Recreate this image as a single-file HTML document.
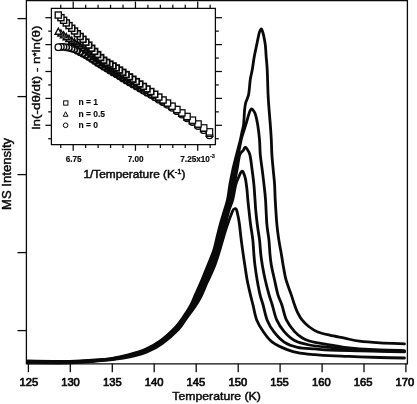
<!DOCTYPE html>
<html><head><meta charset="utf-8"><title>TPD</title>
<style>html,body{margin:0;padding:0;background:#fff}svg{display:block}</style></head>
<body>
<svg width="417" height="404" viewBox="0 0 417 404">
<rect x="0" y="0" width="417" height="404" fill="#fff"/>
<g fill="none" stroke="#0a0a0a" stroke-width="1.3">
<path d="M26.4 0.7 H407.4 V363.8 H26.4 Z"/>
<path d="M17.5 18.6 H26.4"/>
<path d="M17.5 96.6 H26.4"/>
<path d="M17.5 174.6 H26.4"/>
<path d="M17.5 252.6 H26.4"/>
<path d="M17.5 330.6 H26.4"/>
<path d="M28.4 363.8 V372.2"/>
<path d="M70.3 363.8 V372.2"/>
<path d="M112.3 363.8 V372.2"/>
<path d="M154.2 363.8 V372.2"/>
<path d="M196.2 363.8 V372.2"/>
<path d="M238.2 363.8 V372.2"/>
<path d="M280.1 363.8 V372.2"/>
<path d="M322.1 363.8 V372.2"/>
<path d="M364.0 363.8 V372.2"/>
<path d="M405.9 363.8 V372.2"/>
</g>
<g fill="none" stroke="#0a0a0a" stroke-width="1.25">
<path d="M51.4 8.4 H215.4 V144.6 H51.4 Z"/>
<path d="M60.75 144.6 V148.0"/>
<path d="M60.75 8.4 V4.8"/>
<path d="M73.20 144.6 V150.8"/>
<path d="M73.20 8.4 V1.6"/>
<path d="M85.65 144.6 V148.0"/>
<path d="M85.65 8.4 V4.8"/>
<path d="M98.10 144.6 V148.0"/>
<path d="M98.10 8.4 V4.8"/>
<path d="M110.55 144.6 V148.0"/>
<path d="M110.55 8.4 V4.8"/>
<path d="M123.00 144.6 V148.0"/>
<path d="M123.00 8.4 V4.8"/>
<path d="M135.45 144.6 V150.8"/>
<path d="M135.45 8.4 V1.6"/>
<path d="M147.90 144.6 V148.0"/>
<path d="M147.90 8.4 V4.8"/>
<path d="M160.35 144.6 V148.0"/>
<path d="M160.35 8.4 V4.8"/>
<path d="M172.80 144.6 V148.0"/>
<path d="M172.80 8.4 V4.8"/>
<path d="M185.25 144.6 V148.0"/>
<path d="M185.25 8.4 V4.8"/>
<path d="M197.70 144.6 V150.8"/>
<path d="M197.70 8.4 V1.6"/>
<path d="M210.15 144.6 V148.0"/>
<path d="M210.15 8.4 V4.8"/>
<path d="M51.4 17.70 H45.4"/>
<path d="M215.4 17.70 H221.9"/>
<path d="M51.4 31.15 H48.2"/>
<path d="M215.4 31.15 H218.8"/>
<path d="M51.4 44.60 H45.4"/>
<path d="M215.4 44.60 H221.9"/>
<path d="M51.4 58.05 H48.2"/>
<path d="M215.4 58.05 H218.8"/>
<path d="M51.4 71.50 H45.4"/>
<path d="M215.4 71.50 H221.9"/>
<path d="M51.4 84.95 H48.2"/>
<path d="M215.4 84.95 H218.8"/>
<path d="M51.4 98.40 H45.4"/>
<path d="M215.4 98.40 H221.9"/>
<path d="M51.4 111.85 H48.2"/>
<path d="M215.4 111.85 H218.8"/>
<path d="M51.4 125.30 H45.4"/>
<path d="M215.4 125.30 H221.9"/>
<path d="M51.4 138.75 H48.2"/>
<path d="M215.4 138.75 H218.8"/>
</g>
<g fill="#fff" stroke="#0a0a0a">
<circle cx="209.50" cy="135.36" r="3.31" stroke-width="1.20"/>
<circle cx="203.74" cy="130.20" r="3.30" stroke-width="1.22"/>
<circle cx="198.07" cy="126.09" r="3.29" stroke-width="1.24"/>
<circle cx="192.48" cy="122.06" r="3.27" stroke-width="1.26"/>
<circle cx="187.09" cy="118.24" r="3.26" stroke-width="1.28"/>
<circle cx="181.91" cy="114.62" r="3.25" stroke-width="1.30"/>
<circle cx="176.93" cy="111.13" r="3.25" stroke-width="1.32"/>
<circle cx="172.14" cy="107.78" r="3.24" stroke-width="1.34"/>
<circle cx="167.53" cy="104.82" r="3.22" stroke-width="1.36"/>
<circle cx="163.11" cy="102.18" r="3.16" stroke-width="1.48"/>
<circle cx="158.85" cy="99.65" r="3.11" stroke-width="1.59"/>
<circle cx="154.76" cy="97.21" r="3.05" stroke-width="1.69"/>
<circle cx="150.82" cy="94.87" r="3.00" stroke-width="1.79"/>
<circle cx="147.03" cy="92.66" r="2.95" stroke-width="1.89"/>
<circle cx="143.40" cy="90.55" r="2.90" stroke-width="1.98"/>
<circle cx="139.86" cy="88.50" r="2.85" stroke-width="2.07"/>
<circle cx="136.37" cy="86.48" r="2.80" stroke-width="2.16"/>
<circle cx="132.92" cy="84.48" r="2.78" stroke-width="2.20"/>
<circle cx="129.51" cy="82.49" r="2.78" stroke-width="2.20"/>
<circle cx="126.15" cy="80.42" r="2.78" stroke-width="2.20"/>
<circle cx="122.83" cy="78.38" r="2.78" stroke-width="2.20"/>
<circle cx="119.54" cy="76.36" r="2.78" stroke-width="2.20"/>
<circle cx="116.30" cy="74.37" r="2.78" stroke-width="2.20"/>
<circle cx="113.10" cy="72.41" r="2.78" stroke-width="2.20"/>
<circle cx="109.94" cy="70.47" r="2.78" stroke-width="2.20"/>
<circle cx="106.82" cy="68.57" r="2.78" stroke-width="2.20"/>
<circle cx="103.73" cy="66.70" r="2.78" stroke-width="2.20"/>
<circle cx="100.69" cy="64.86" r="2.78" stroke-width="2.20"/>
<circle cx="97.67" cy="62.88" r="2.78" stroke-width="2.20"/>
<circle cx="94.68" cy="60.88" r="2.78" stroke-width="2.20"/>
<circle cx="91.72" cy="58.92" r="2.78" stroke-width="2.20"/>
<circle cx="88.79" cy="57.08" r="2.78" stroke-width="2.20"/>
<circle cx="85.88" cy="55.37" r="2.83" stroke-width="2.11"/>
<circle cx="83.01" cy="53.72" r="2.89" stroke-width="2.00"/>
<circle cx="80.16" cy="52.15" r="2.95" stroke-width="1.88"/>
<circle cx="77.33" cy="50.67" r="3.01" stroke-width="1.77"/>
<circle cx="74.54" cy="49.37" r="3.07" stroke-width="1.65"/>
<circle cx="71.76" cy="48.52" r="3.13" stroke-width="1.55"/>
<circle cx="69.02" cy="47.84" r="3.15" stroke-width="1.51"/>
<circle cx="66.30" cy="47.37" r="3.17" stroke-width="1.47"/>
<circle cx="63.61" cy="46.95" r="3.19" stroke-width="1.43"/>
<circle cx="60.94" cy="46.84" r="3.21" stroke-width="1.39"/>
<circle cx="58.30" cy="47.15" r="3.23" stroke-width="1.35"/>
<path d="M206.19 136.28 L212.81 136.28 L209.50 129.99 Z" stroke-width="1.20"/>
<path d="M200.44 131.71 L207.04 131.71 L203.74 125.44 Z" stroke-width="1.22"/>
<path d="M194.78 127.70 L201.35 127.70 L198.07 121.45 Z" stroke-width="1.24"/>
<path d="M189.20 123.76 L195.75 123.76 L192.48 117.52 Z" stroke-width="1.26"/>
<path d="M183.82 119.99 L190.35 119.99 L187.09 113.77 Z" stroke-width="1.28"/>
<path d="M178.65 116.39 L185.16 116.39 L181.91 110.19 Z" stroke-width="1.30"/>
<path d="M173.68 112.93 L180.17 112.93 L176.93 106.75 Z" stroke-width="1.32"/>
<path d="M168.90 109.60 L175.38 109.60 L172.14 103.44 Z" stroke-width="1.34"/>
<path d="M164.31 106.53 L170.76 106.53 L167.53 100.39 Z" stroke-width="1.36"/>
<path d="M159.94 103.64 L166.27 103.64 L163.11 97.62 Z" stroke-width="1.48"/>
<path d="M155.74 100.86 L161.95 100.86 L158.85 94.95 Z" stroke-width="1.59"/>
<path d="M151.71 98.20 L157.81 98.20 L154.76 92.39 Z" stroke-width="1.69"/>
<path d="M147.82 95.63 L153.82 95.63 L150.82 89.92 Z" stroke-width="1.79"/>
<path d="M144.09 93.18 L149.98 93.18 L147.03 87.57 Z" stroke-width="1.89"/>
<path d="M140.50 90.84 L146.29 90.84 L143.40 85.32 Z" stroke-width="1.98"/>
<path d="M137.01 88.56 L142.71 88.56 L139.86 83.14 Z" stroke-width="2.07"/>
<path d="M133.57 86.31 L139.17 86.31 L136.37 80.97 Z" stroke-width="2.16"/>
<path d="M130.14 84.11 L135.70 84.11 L132.92 78.81 Z" stroke-width="2.20"/>
<path d="M126.73 81.94 L132.29 81.94 L129.51 76.64 Z" stroke-width="2.20"/>
<path d="M123.37 79.75 L128.93 79.75 L126.15 74.45 Z" stroke-width="2.20"/>
<path d="M120.04 77.58 L125.61 77.58 L122.83 72.28 Z" stroke-width="2.20"/>
<path d="M116.76 75.45 L122.33 75.45 L119.54 70.15 Z" stroke-width="2.20"/>
<path d="M113.52 73.33 L119.08 73.33 L116.30 68.03 Z" stroke-width="2.20"/>
<path d="M110.32 71.25 L115.88 71.25 L113.10 65.95 Z" stroke-width="2.20"/>
<path d="M107.16 69.19 L112.72 69.19 L109.94 63.89 Z" stroke-width="2.20"/>
<path d="M104.03 67.15 L109.60 67.15 L106.82 61.85 Z" stroke-width="2.20"/>
<path d="M100.95 65.14 L106.52 65.14 L103.73 59.84 Z" stroke-width="2.20"/>
<path d="M97.90 63.15 L103.47 63.15 L100.69 57.85 Z" stroke-width="2.20"/>
<path d="M94.89 61.08 L100.45 61.08 L97.67 55.78 Z" stroke-width="2.20"/>
<path d="M91.90 58.90 L97.46 58.90 L94.68 53.60 Z" stroke-width="2.20"/>
<path d="M88.94 56.74 L94.50 56.74 L91.72 51.44 Z" stroke-width="2.20"/>
<path d="M86.01 54.63 L91.57 54.63 L88.79 49.33 Z" stroke-width="2.20"/>
<path d="M83.06 52.62 L88.71 52.62 L85.88 47.24 Z" stroke-width="2.11"/>
<path d="M80.12 50.64 L85.89 50.64 L83.01 45.14 Z" stroke-width="2.00"/>
<path d="M77.21 48.68 L83.11 48.68 L80.16 43.07 Z" stroke-width="1.88"/>
<path d="M74.32 46.74 L80.34 46.74 L77.33 41.01 Z" stroke-width="1.77"/>
<path d="M71.47 44.85 L77.60 44.85 L74.54 39.00 Z" stroke-width="1.65"/>
<path d="M68.64 43.13 L74.89 43.13 L71.76 37.18 Z" stroke-width="1.55"/>
<path d="M65.87 41.39 L72.17 41.39 L69.02 35.40 Z" stroke-width="1.51"/>
<path d="M63.14 39.68 L69.47 39.68 L66.30 33.65 Z" stroke-width="1.47"/>
<path d="M60.42 37.86 L66.80 37.86 L63.61 31.79 Z" stroke-width="1.43"/>
<path d="M57.74 36.05 L64.15 36.05 L60.94 29.94 Z" stroke-width="1.39"/>
<path d="M55.07 34.25 L61.53 34.25 L58.30 28.10 Z" stroke-width="1.35"/>
<rect x="206.35" y="128.70" width="6.30" height="6.30" stroke-width="1.20"/>
<rect x="200.60" y="124.75" width="6.29" height="6.29" stroke-width="1.21"/>
<rect x="194.93" y="120.86" width="6.27" height="6.27" stroke-width="1.23"/>
<rect x="189.35" y="117.03" width="6.26" height="6.26" stroke-width="1.24"/>
<rect x="183.97" y="113.33" width="6.25" height="6.25" stroke-width="1.25"/>
<rect x="178.79" y="109.78" width="6.23" height="6.23" stroke-width="1.27"/>
<rect x="173.82" y="106.36" width="6.22" height="6.22" stroke-width="1.28"/>
<rect x="169.03" y="103.08" width="6.21" height="6.21" stroke-width="1.29"/>
<rect x="164.44" y="99.93" width="6.19" height="6.19" stroke-width="1.31"/>
<rect x="160.04" y="96.92" width="6.13" height="6.13" stroke-width="1.37"/>
<rect x="155.82" y="94.02" width="6.06" height="6.06" stroke-width="1.44"/>
<rect x="151.76" y="91.24" width="6.00" height="6.00" stroke-width="1.50"/>
<rect x="147.85" y="88.57" width="5.94" height="5.94" stroke-width="1.56"/>
<rect x="144.09" y="86.00" width="5.88" height="5.88" stroke-width="1.62"/>
<rect x="140.48" y="83.52" width="5.83" height="5.83" stroke-width="1.67"/>
<rect x="136.97" y="81.12" width="5.77" height="5.77" stroke-width="1.73"/>
<rect x="133.51" y="78.75" width="5.72" height="5.72" stroke-width="1.78"/>
<rect x="130.07" y="76.39" width="5.70" height="5.70" stroke-width="1.80"/>
<rect x="126.66" y="74.05" width="5.70" height="5.70" stroke-width="1.80"/>
<rect x="123.30" y="71.74" width="5.70" height="5.70" stroke-width="1.80"/>
<rect x="119.98" y="69.47" width="5.70" height="5.70" stroke-width="1.80"/>
<rect x="116.69" y="67.25" width="5.70" height="5.70" stroke-width="1.80"/>
<rect x="113.45" y="65.12" width="5.70" height="5.70" stroke-width="1.80"/>
<rect x="110.25" y="63.12" width="5.70" height="5.70" stroke-width="1.80"/>
<rect x="107.09" y="61.28" width="5.70" height="5.70" stroke-width="1.80"/>
<rect x="103.97" y="59.53" width="5.70" height="5.70" stroke-width="1.80"/>
<rect x="100.88" y="57.40" width="5.70" height="5.70" stroke-width="1.80"/>
<rect x="97.84" y="54.72" width="5.70" height="5.70" stroke-width="1.80"/>
<rect x="94.81" y="51.73" width="5.72" height="5.72" stroke-width="1.78"/>
<rect x="91.80" y="48.56" width="5.76" height="5.76" stroke-width="1.74"/>
<rect x="88.83" y="45.36" width="5.79" height="5.79" stroke-width="1.71"/>
<rect x="85.88" y="42.24" width="5.82" height="5.82" stroke-width="1.68"/>
<rect x="82.96" y="39.25" width="5.85" height="5.85" stroke-width="1.65"/>
<rect x="80.06" y="36.36" width="5.88" height="5.88" stroke-width="1.62"/>
<rect x="77.20" y="33.54" width="5.91" height="5.91" stroke-width="1.59"/>
<rect x="74.36" y="30.77" width="5.94" height="5.94" stroke-width="1.56"/>
<rect x="71.55" y="28.02" width="5.97" height="5.97" stroke-width="1.53"/>
<rect x="68.76" y="25.30" width="6.00" height="6.00" stroke-width="1.50"/>
<rect x="66.00" y="22.59" width="6.03" height="6.03" stroke-width="1.47"/>
<rect x="63.27" y="19.91" width="6.06" height="6.06" stroke-width="1.44"/>
<rect x="60.56" y="17.24" width="6.09" height="6.09" stroke-width="1.41"/>
<rect x="57.88" y="14.60" width="6.12" height="6.12" stroke-width="1.38"/>
<rect x="55.23" y="11.97" width="6.15" height="6.15" stroke-width="1.35"/>
</g>
<g fill="#fff" stroke="#0a0a0a" stroke-width="1">
<rect x="63.65" y="100.85" width="4.30" height="4.30"/>
<path d="M63.24 116.31 L67.96 116.31 L65.60 111.81 Z"/>
<circle cx="65.60" cy="125.30" r="2.31"/>
</g>
<g fill="none" stroke="#0a0a0a" stroke-width="2.8" stroke-linejoin="round" stroke-linecap="round">
<path d="M27.80 361.00 C34.83 361.05 58.75 361.47 70.00 361.30 C81.25 361.13 88.26 360.50 95.31 360.00 C102.35 359.49 106.63 359.18 112.28 358.27 C117.93 357.36 123.67 356.06 129.22 354.54 C134.76 353.02 140.30 351.48 145.53 349.16 C150.76 346.84 155.54 344.32 160.58 340.61 C165.62 336.91 171.99 330.86 175.77 326.94 C179.55 323.02 180.78 320.73 183.27 317.09 C185.77 313.46 188.77 308.80 190.75 305.15 C192.74 301.49 193.34 299.32 195.18 295.18 C197.02 291.04 199.68 285.23 201.78 280.28 C203.88 275.33 205.81 270.41 207.79 265.45 C209.78 260.50 212.27 254.80 213.70 250.55 C215.12 246.31 215.29 244.22 216.35 239.98 C217.41 235.73 218.70 230.04 220.05 225.08 C221.41 220.11 223.22 214.46 224.47 210.18 C225.73 205.90 226.70 203.66 227.60 199.40 C228.50 195.14 229.03 189.55 229.90 184.60 C230.77 179.65 231.70 174.65 232.80 169.70 C233.90 164.75 235.25 159.85 236.50 154.90 C237.75 149.95 239.38 143.82 240.30 140.00 C241.22 136.18 241.45 134.55 242.00 132.00 C242.55 129.45 243.17 128.38 243.60 124.70 C244.03 121.02 244.23 113.62 244.60 109.90 C244.97 106.18 245.13 104.95 245.80 102.40 C246.47 99.85 247.85 98.43 248.60 94.60 C249.35 90.77 249.68 83.58 250.30 79.40 C250.92 75.22 251.65 73.22 252.30 69.50 C252.95 65.78 253.47 61.22 254.20 57.10 C254.93 52.98 255.87 48.82 256.70 44.80 C257.53 40.78 258.58 35.47 259.20 33.00 C259.82 30.53 260.07 30.67 260.40 30.00 C260.73 29.33 260.92 28.97 261.20 29.00 C261.48 29.03 261.72 29.22 262.10 30.20 C262.48 31.18 262.97 32.47 263.50 34.90 C264.03 37.33 264.85 41.10 265.30 44.80 C265.75 48.50 265.88 52.98 266.20 57.10 C266.52 61.22 266.88 63.18 267.20 69.50 C267.52 75.82 267.78 88.27 268.10 95.00 C268.42 101.73 268.73 104.95 269.10 109.90 C269.47 114.85 269.93 119.75 270.30 124.70 C270.67 129.65 271.03 134.57 271.30 139.60 C271.57 144.63 271.58 149.88 271.90 154.90 C272.22 159.92 272.75 164.75 273.20 169.70 C273.65 174.65 274.27 179.65 274.60 184.60 C274.93 189.55 274.82 192.72 275.20 199.40 C275.58 206.08 276.30 218.00 276.90 224.70 C277.50 231.40 278.05 234.65 278.80 239.60 C279.55 244.55 280.68 250.18 281.40 254.40 C282.12 258.62 282.33 260.68 283.10 264.90 C283.87 269.12 284.65 274.75 286.00 279.70 C287.35 284.65 289.77 290.38 291.20 294.60 C292.63 298.82 293.55 302.03 294.60 305.00 C295.65 307.97 296.27 309.92 297.50 312.40 C298.73 314.88 300.02 317.47 302.00 319.90 C303.98 322.33 306.77 324.98 309.40 327.00 C312.03 329.02 314.42 330.63 317.80 332.00 C321.18 333.37 325.23 334.17 329.70 335.20 C334.17 336.23 339.65 337.20 344.60 338.20 C349.55 339.20 353.50 340.42 359.40 341.20 C365.30 341.98 372.48 342.45 380.00 342.90 C387.52 343.35 400.42 343.73 404.50 343.90"/>
<path d="M27.80 361.45 C34.83 361.49 58.75 361.89 70.00 361.70 C81.25 361.51 88.27 360.82 95.33 360.30 C102.39 359.78 106.66 359.45 112.34 358.59 C118.02 357.72 123.80 356.57 129.38 355.12 C134.97 353.67 140.59 352.19 145.87 349.88 C151.15 347.57 155.97 345.01 161.07 341.28 C166.16 337.55 172.64 331.46 176.46 327.49 C180.28 323.53 181.41 321.17 183.96 317.52 C186.51 313.88 189.66 309.25 191.75 305.62 C193.84 301.99 194.62 299.87 196.52 295.74 C198.41 291.61 200.99 285.79 203.12 280.84 C205.25 275.89 207.31 271.01 209.30 266.05 C211.28 261.09 213.60 255.36 215.02 251.08 C216.44 246.79 216.71 244.62 217.83 240.36 C218.94 236.10 220.37 230.50 221.73 225.51 C223.08 220.53 224.65 214.82 225.96 210.47 C227.27 206.11 228.55 203.71 229.58 199.40 C230.61 195.09 231.23 189.55 232.14 184.60 C233.05 179.65 234.03 174.65 235.04 169.70 C236.05 164.75 237.19 159.85 238.21 154.90 C239.23 149.95 240.37 143.48 241.14 140.00 C241.90 136.52 242.02 136.55 242.80 134.00 C243.58 131.45 244.80 127.98 245.80 124.70 C246.80 121.42 248.03 116.72 248.80 114.30 C249.57 111.88 249.92 111.08 250.40 110.20 C250.88 109.32 251.27 109.03 251.70 109.00 C252.13 108.97 252.38 109.12 253.00 110.00 C253.62 110.88 254.62 111.85 255.40 114.30 C256.18 116.75 257.02 120.48 257.70 124.70 C258.38 128.92 259.07 134.57 259.50 139.60 C259.93 144.63 259.85 149.88 260.30 154.90 C260.75 159.92 261.58 164.75 262.20 169.70 C262.82 174.65 263.45 179.65 264.00 184.60 C264.55 189.55 265.02 192.72 265.50 199.40 C265.98 206.08 266.33 218.00 266.90 224.70 C267.47 231.40 268.38 234.65 268.90 239.60 C269.42 244.55 269.60 250.18 270.00 254.40 C270.40 258.62 270.55 260.68 271.30 264.90 C272.05 269.12 273.40 274.75 274.50 279.70 C275.60 284.65 276.67 290.38 277.90 294.60 C279.13 298.82 280.48 300.78 281.90 305.00 C283.32 309.22 284.28 315.45 286.40 319.90 C288.52 324.35 292.00 328.73 294.60 331.70 C297.20 334.67 299.53 336.15 302.00 337.70 C304.47 339.25 306.77 340.13 309.40 341.00 C312.03 341.87 314.42 342.25 317.80 342.90 C321.18 343.55 325.23 344.15 329.70 344.90 C334.17 345.65 339.65 346.73 344.60 347.40 C349.55 348.07 353.50 348.47 359.40 348.90 C365.30 349.33 372.48 349.72 380.00 350.00 C387.52 350.28 400.42 350.50 404.50 350.60"/>
<path d="M27.80 361.86 C34.83 361.90 58.74 362.28 70.00 362.07 C81.26 361.85 88.28 361.11 95.35 360.58 C102.41 360.04 106.70 359.70 112.40 358.87 C118.09 358.05 123.91 357.04 129.54 355.65 C135.17 354.26 140.84 352.84 146.17 350.54 C151.50 348.25 156.36 345.65 161.51 341.90 C166.66 338.14 173.25 332.00 177.09 328.01 C180.94 324.01 182.00 321.57 184.59 317.92 C187.19 314.26 190.48 309.67 192.67 306.06 C194.86 302.45 195.80 300.37 197.74 296.26 C199.69 292.14 202.19 286.30 204.34 281.36 C206.50 276.41 208.70 271.57 210.68 266.60 C212.66 261.64 214.83 255.87 216.24 251.56 C217.66 247.24 218.01 244.99 219.18 240.72 C220.35 236.45 221.91 230.91 223.27 225.92 C224.62 220.92 225.98 215.15 227.33 210.73 C228.68 206.31 230.21 203.75 231.34 199.40 C232.48 195.05 233.20 189.55 234.15 184.60 C235.10 179.65 236.12 174.65 237.05 169.70 C237.98 164.75 238.71 158.10 239.74 154.90 C240.77 151.70 242.42 151.62 243.20 150.50 C243.98 149.38 244.02 148.72 244.40 148.20 C244.78 147.68 245.10 147.33 245.50 147.40 C245.90 147.47 246.07 147.35 246.80 148.60 C247.53 149.85 249.02 151.38 249.90 154.90 C250.78 158.42 251.43 164.75 252.10 169.70 C252.77 174.65 253.42 179.65 253.90 184.60 C254.38 189.55 254.70 195.18 255.00 199.40 C255.30 203.62 255.32 205.68 255.70 209.90 C256.08 214.12 256.67 219.75 257.30 224.70 C257.93 229.65 258.92 234.65 259.50 239.60 C260.08 244.55 260.33 250.18 260.80 254.40 C261.27 258.62 261.57 260.68 262.30 264.90 C263.03 269.12 264.08 274.75 265.20 279.70 C266.32 284.65 267.82 290.38 269.00 294.60 C270.18 298.82 271.02 300.78 272.30 305.00 C273.58 309.22 274.72 315.45 276.70 319.90 C278.68 324.35 281.22 328.25 284.20 331.70 C287.18 335.15 290.40 338.38 294.60 340.60 C298.80 342.82 303.55 343.87 309.40 345.00 C315.25 346.13 323.83 346.80 329.70 347.40 C335.57 348.00 339.65 348.20 344.60 348.60 C349.55 349.00 353.50 349.45 359.40 349.80 C365.30 350.15 372.48 350.43 380.00 350.70 C387.52 350.97 400.42 351.28 404.50 351.40"/>
<path d="M27.80 362.30 C34.83 362.32 58.74 362.69 70.00 362.45 C81.26 362.21 88.29 361.41 95.37 360.87 C102.44 360.32 106.73 359.95 112.45 359.18 C118.17 358.40 124.02 357.53 129.70 356.21 C135.37 354.89 141.11 353.51 146.49 351.23 C151.87 348.95 156.77 346.32 161.98 342.54 C167.19 338.76 173.88 332.57 177.76 328.54 C181.64 324.50 182.61 322.00 185.26 318.33 C187.90 314.66 191.33 310.11 193.63 306.52 C195.92 302.93 197.02 300.90 199.02 296.79 C201.02 292.69 203.44 286.83 205.62 281.89 C207.81 276.96 210.14 272.15 212.12 267.18 C214.11 262.20 216.11 256.41 217.52 252.06 C218.93 247.71 219.37 245.38 220.60 241.09 C221.82 236.80 223.51 231.35 224.87 226.33 C226.23 221.32 227.44 215.49 228.76 211.00 C230.08 206.51 231.63 203.80 232.80 199.40 C233.97 195.00 234.67 188.67 235.80 184.60 C236.93 180.53 238.73 177.07 239.60 175.00 C240.47 172.93 240.58 172.83 241.00 172.20 C241.42 171.57 241.72 171.17 242.10 171.20 C242.48 171.23 242.75 171.17 243.30 172.40 C243.85 173.63 244.80 175.83 245.40 178.60 C246.00 181.37 246.50 185.53 246.90 189.00 C247.30 192.47 247.47 195.92 247.80 199.40 C248.13 202.88 248.43 205.68 248.90 209.90 C249.37 214.12 249.95 219.75 250.60 224.70 C251.25 229.65 252.25 234.65 252.80 239.60 C253.35 244.55 253.55 250.18 253.90 254.40 C254.25 258.62 254.37 260.68 254.90 264.90 C255.43 269.12 256.25 274.75 257.10 279.70 C257.95 284.65 259.00 290.38 260.00 294.60 C261.00 298.82 261.92 300.78 263.10 305.00 C264.28 309.22 265.32 315.45 267.10 319.90 C268.88 324.35 270.95 328.00 273.80 331.70 C276.65 335.40 280.25 339.50 284.20 342.10 C288.15 344.70 292.38 346.17 297.50 347.30 C302.62 348.43 309.53 348.43 314.90 348.90 C320.27 349.37 322.28 349.78 329.70 350.10 C337.12 350.42 351.02 350.60 359.40 350.80 C367.78 351.00 372.48 351.12 380.00 351.30 C387.52 351.48 400.42 351.80 404.50 351.90"/>
<path d="M27.80 362.80 C34.83 362.82 58.73 363.17 70.00 362.90 C81.27 362.63 88.31 361.77 95.39 361.20 C102.48 360.64 106.77 360.25 112.52 359.53 C118.27 358.80 124.16 358.11 129.88 356.86 C135.61 355.61 141.43 354.30 146.87 352.04 C152.31 349.78 157.24 347.10 162.52 343.29 C167.80 339.47 174.61 333.24 178.53 329.16 C182.45 325.08 183.32 322.49 186.03 318.81 C188.73 315.12 192.33 310.62 194.75 307.05 C197.16 303.49 198.46 301.51 200.52 297.42 C202.58 293.33 204.90 287.45 207.12 282.52 C209.33 277.59 211.82 272.82 213.81 267.85 C215.79 262.87 217.60 257.04 219.00 252.65 C220.41 248.26 220.96 245.83 222.25 241.52 C223.54 237.22 225.02 231.91 226.75 226.82 C228.47 221.74 231.36 213.97 232.60 211.00 C233.84 208.03 233.73 209.40 234.20 209.00 C234.67 208.60 235.00 208.43 235.40 208.60 C235.80 208.77 236.12 208.55 236.60 210.00 C237.08 211.45 237.82 214.85 238.30 217.30 C238.78 219.75 239.02 220.98 239.50 224.70 C239.98 228.42 240.58 234.65 241.20 239.60 C241.82 244.55 242.60 250.18 243.20 254.40 C243.80 258.62 244.15 260.68 244.80 264.90 C245.45 269.12 246.17 274.75 247.10 279.70 C248.03 284.65 249.42 290.38 250.40 294.60 C251.38 298.82 251.95 300.78 253.00 305.00 C254.05 309.22 254.97 315.45 256.70 319.90 C258.43 324.35 260.80 328.00 263.40 331.70 C266.00 335.40 268.35 339.12 272.30 342.10 C276.25 345.08 282.48 347.77 287.10 349.60 C291.72 351.43 295.37 352.27 300.00 353.10 C304.63 353.93 309.95 354.17 314.90 354.60 C319.85 355.03 324.75 355.42 329.70 355.70 C334.65 355.98 339.65 356.12 344.60 356.30 C349.55 356.48 353.50 356.60 359.40 356.80 C365.30 357.00 372.48 357.30 380.00 357.50 C387.52 357.70 400.42 357.92 404.50 358.00"/>
</g>
<g font-family="Liberation Sans, Arial, Helvetica, sans-serif" fill="#0a0a0a" stroke="#0a0a0a" stroke-width="0.5">
<text x="28.8" y="386.3" font-size="11.2" text-anchor="middle" stroke-width="0.7">125</text>
<text x="70.5" y="386.3" font-size="11.2" text-anchor="middle" stroke-width="0.7">130</text>
<text x="112.3" y="386.3" font-size="11.2" text-anchor="middle" stroke-width="0.7">135</text>
<text x="154.1" y="386.3" font-size="11.2" text-anchor="middle" stroke-width="0.7">140</text>
<text x="195.9" y="386.3" font-size="11.2" text-anchor="middle" stroke-width="0.7">145</text>
<text x="237.8" y="386.3" font-size="11.2" text-anchor="middle" stroke-width="0.7">150</text>
<text x="279.5" y="386.3" font-size="11.2" text-anchor="middle" stroke-width="0.7">155</text>
<text x="321.3" y="386.3" font-size="11.2" text-anchor="middle" stroke-width="0.7">160</text>
<text x="363.1" y="386.3" font-size="11.2" text-anchor="middle" stroke-width="0.7">165</text>
<text x="404.9" y="386.3" font-size="11.2" text-anchor="middle" stroke-width="0.7">170</text>
<text transform="translate(216.6 400.3) scale(1 0.92)" font-size="12.25" text-anchor="middle">Temperature (K)</text>
<text transform="translate(10.9 209.9) rotate(-90) scale(1 0.92)" font-size="13.1">MS Intensity</text>
<g font-size="8.2" font-weight="bold" text-anchor="middle" stroke-width="0.15">
<text x="73.6" y="162.1">6.75</text>
<text x="135.6" y="162.1">7.00</text>
</g>
<text x="180.3" y="162.0" font-size="8.2" font-weight="bold" stroke-width="0.15">7.25x10<tspan font-size="5.6" dy="-3.6">-3</tspan></text>
<text transform="translate(83.4 177.9) scale(1 0.92)" font-size="11.85">1/Temperature (K<tspan font-size="7.5" dy="-4.2">-1</tspan><tspan dy="4.2">)</tspan></text>
<text transform="translate(39.5 129.4) rotate(-90) scale(1 0.86)" font-size="13.4">ln(-dθ/dt) - n<tspan font-size="10.5" dy="-1">*</tspan><tspan dy="1">ln(θ)</tspan></text>
<g font-size="8.5" font-weight="bold" stroke-width="0.1">
<text x="78.4" y="105.4">n = 1</text>
<text x="78.4" y="116.8">n = 0.5</text>
<text x="78.4" y="127.7">n = 0</text>
</g>
</g>
</svg>
</body></html>
